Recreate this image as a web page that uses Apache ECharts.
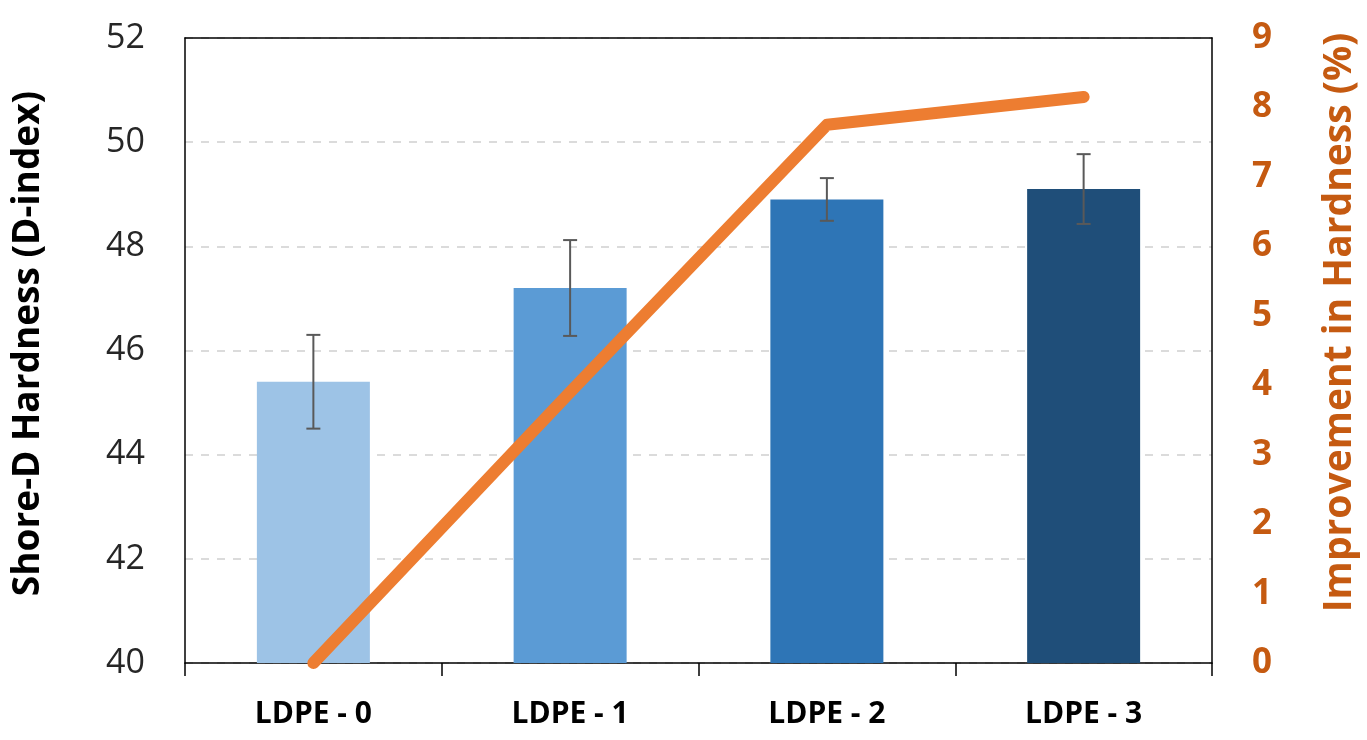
<!DOCTYPE html>
<html>
<head>
<meta charset="utf-8">
<script src="https://cdn.jsdelivr.net/npm/echarts@6/dist/echarts.min.js"></script>
<style>html,body{margin:0;padding:0;background:#fff}#c{width:1367px;height:740px}</style>
</head>
<body>
<div id="c"></div>
<script>
var categories = ['LDPE - 0', 'LDPE - 1', 'LDPE - 2', 'LDPE - 3'];
var hardness = [45.4, 47.2, 48.9, 49.1];
var hardnessErr = [0.9, 0.92, 0.41, 0.67];
var improvement = [0, 3.9, 7.75, 8.15];
var barColors = ['#9DC3E6', '#5B9BD5', '#2E75B6', '#1F4E79'];
var leftTicks = { min: 40, max: 52, interval: 2 };
var rightTicks = { min: 0, max: 9, interval: 1 };

var FONT = '"Open Sans", "Noto Sans", sans-serif';
var chart = echarts.init(document.getElementById('c'));

var errData = hardness.map(function (v, i) { return [i, v - hardnessErr[i], v + hardnessErr[i]]; });

chart.setOption({
  animation: false,
  backgroundColor: '#fff',
  grid: { left: 185, right: 154, top: 38, bottom: 77, show: false },
  xAxis: [{
    type: 'category',
    data: categories,
    axisLine: { lineStyle: { color: '#000', width: 1.5 } },
    axisTick: { show: true, length: 13, lineStyle: { color: '#000', width: 1.5 } },
    axisLabel: { fontFamily: FONT, fontWeight: 'bold', fontSize: 30, color: '#000', margin: 36 }
  }, {
    type: 'category',
    data: categories,
    position: 'top',
    axisLine: { show: true, lineStyle: { color: '#000', width: 1.5 } },
    axisTick: { show: false },
    axisLabel: { show: false },
    splitLine: { show: false }
  }],
  yAxis: [{
    type: 'value',
    min: leftTicks.min, max: leftTicks.max, interval: leftTicks.interval,
    name: 'Shore-D Hardness (D-index)',
    nameLocation: 'middle',
    nameGap: 138,
    nameTextStyle: { fontFamily: FONT, fontWeight: 'bold', fontSize: 37, color: '#000', padding: [0, 0, 0, 14] },
    axisLine: { show: true, lineStyle: { color: '#000', width: 1.5 } },
    axisTick: { show: false },
    axisLabel: { fontFamily: FONT, fontSize: 34, color: '#262626', margin: 40 },
    splitLine: { show: true, lineStyle: { color: '#D0D0D0', type: [8, 8], width: 1.5 } }
  }, {
    type: 'value',
    position: 'right',
    min: rightTicks.min, max: rightTicks.max, interval: rightTicks.interval,
    name: 'Improvement in Hardness (%)',
    nameLocation: 'middle',
    nameGap: 108,
    nameTextStyle: { fontFamily: FONT, fontWeight: 'bold', fontSize: 39, color: '#C55A11', padding: [0, 0, 0, 56] },
    axisLine: { show: true, lineStyle: { color: '#000', width: 1.5 } },
    axisTick: { show: false },
    axisLabel: { fontFamily: FONT, fontWeight: 'bold', fontSize: 35, color: '#C55A11', margin: 40 },
    splitLine: { show: false }
  }],
  series: [{
    type: 'bar',
    yAxisIndex: 0,
    barWidth: 113,
    z: 2,
    data: hardness.map(function (v, i) { return { value: v, itemStyle: { color: barColors[i] } }; })
  }, {
    type: 'custom',
    yAxisIndex: 0,
    z: 3,
    data: errData,
    renderItem: function (params, api) {
      var x = api.value(0);
      var lo = api.coord([x, api.value(1)]);
      var hi = api.coord([x, api.value(2)]);
      var w = 7;
      var st = { stroke: '#595959', lineWidth: 2 };
      return {
        type: 'group',
        children: [
          { type: 'line', shape: { x1: lo[0], y1: lo[1], x2: hi[0], y2: hi[1] }, style: st },
          { type: 'line', shape: { x1: lo[0] - w, y1: lo[1], x2: lo[0] + w, y2: lo[1] }, style: st },
          { type: 'line', shape: { x1: hi[0] - w, y1: hi[1], x2: hi[0] + w, y2: hi[1] }, style: st }
        ]
      };
    }
  }, {
    type: 'line',
    yAxisIndex: 1,
    z: 4,
    data: improvement,
    symbol: 'none',
    lineStyle: { color: '#ED7D31', width: 12, cap: 'round', join: 'round' }
  }]
});
</script>
</body>
</html>
